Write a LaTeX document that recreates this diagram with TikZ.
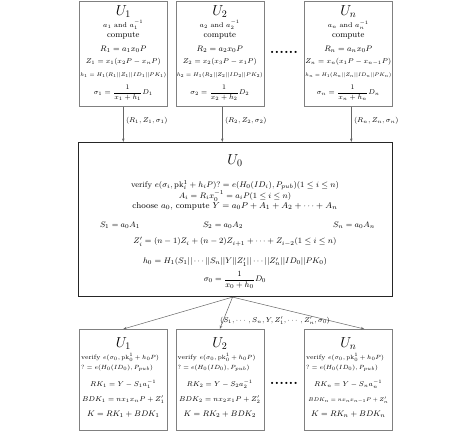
\documentclass[tikz,border=0pt]{standalone}
\usepackage{amsmath,amssymb,graphicx}
\usetikzlibrary{arrows.meta,calc}
\newcommand{\fitw}[2]{\resizebox{#1pt}{!}{#2}}
\begin{document}
\begin{tikzpicture}[x=1pt,y=-1pt,
  ubox/.style={draw=black!50,line width=0.6pt,inner sep=0pt,minimum width=88pt},
  mainbox/.style={draw=black!85,line width=1.1pt,inner sep=0pt,minimum width=314pt,minimum height=154pt},
  ttl/.style={inner sep=0pt,font=\fontsize{14}{16}\selectfont},
  sm/.style={inner sep=0pt,font=\fontsize{7}{8.5}\selectfont},
  xs/.style={inner sep=0pt,font=\fontsize{6.2}{7.5}\selectfont},
  vs/.style={inner sep=0pt,font=\fontsize{6.4}{7.5}\selectfont,anchor=west},
  mn/.style={inner sep=0pt,font=\fontsize{8}{9.5}\selectfont},
  md/.style={inner sep=0pt,font=\fontsize{8.5}{10}\selectfont},
  lbl/.style={inner sep=0pt,font=\fontsize{7}{8.5}\selectfont},
  arr/.style={draw=black!60,line width=0.5pt,-{Stealth[length=3.5pt,width=2.5pt]}},
  dotsn/.style={inner sep=0pt,font=\bfseries\fontsize{15}{16}\selectfont}
]
\useasboundingbox (0,0) rectangle (474,438);
% top boxes
\node[ubox,minimum height=105pt,anchor=north west] (T1) at (79,1) {};
\node[ubox,minimum height=105pt,anchor=north west] (T2) at (175.5,1) {};
\node[ubox,minimum height=105pt,anchor=north west] (T3) at (304,1) {};
\node[dotsn] (d1) at (284,52) {......};
% top box contents
\foreach \b/\i/\z in {T1/1/{x_1(x_2P-x_nP)},T2/2/{x_2(x_3P-x_1P)},T3/n/{x_n(x_1P-x_{n-1}P)}}{
  \node[ttl] at ($(\b.north)+(0,11)$) {$U_{\i}$};
  \node[sm] at ($(\b.north)+(0,24)$) {$a_{\i}$ and $a_{\i}^{-1}$};
  \node[md] at ($(\b.north)+(0,35)$) {compute};
  \node[md] at ($(\b.north)+(0,48)$) {$R_{\i}=a_{\i}x_0P$};
  \node[sm] at ($(\b.north)+(0,61)$) {$Z_{\i}=\z$};
  \node[xs] at ($(\b.north)+(0,74)$) {\fitw{86}{$h_{\i}=H_1(R_{\i}||Z_{\i}||ID_{\i}||PK_{\i})$}};
  \node[sm] at ($(\b.north)+(0,92)$) {$\sigma_{\i}=\dfrac{1}{x_{\i}+h_{\i}}D_{\i}$};
}
% main box
\node[mainbox,anchor=north west] (U0) at (78,142) {};
\node[ttl] (t0) at (235,161) {$U_0$};
\node[mn] (m1) at (235,185) {\fitw{208}{verify $e(\sigma_i,\mathrm{pk}_i^1+h_iP)?=e(H_0(ID_i),P_{pub})(1\le i\le n)$}};
\node[mn] (m2) at (235,196) {$A_i=R_ix_0^{-1}=a_iP(1\le i\le n)$};
\node[mn] (m3) at (235,206) {\fitw{205}{choose $a_0$, compute $Y=a_0P+A_1+A_2+\cdots+A_n$}};
\node[mn] (s1) at (120,225) {$S_1=a_0A_1$};
\node[mn] (s2) at (223,225) {$S_2=a_0A_2$};
\node[mn] (s3) at (354,225) {$S_n=a_0A_n$};
\node[mn] (m4) at (235,242) {\fitw{203}{$Z_i'=(n-1)Z_i+(n-2)Z_{i+1}+\cdots+Z_{i-2}(1\le i\le n)$}};
\node[mn] (m5) at (235,262) {\fitw{184}{$h_0=H_1(S_1||\cdots||S_n||Y||Z_1'||\cdots||Z_n'||ID_0||PK_0)$}};
\node[mn] (m6) at (235,280) {$\sigma_0=\dfrac{1}{x_0+h_0}D_0$};
% arrows top -> U0
\draw[arr] (T1.south) -- (T1.south |- U0.north) node[lbl,pos=0.4,right=2.5pt] {$(R_1,Z_1,\sigma_1)$};
\draw[arr] ($(T2.south)+(2.5,0)$) -- ($(T2.south |- U0.north)+(2.5,0)$) node[lbl,pos=0.4,right=2.5pt] {$(R_2,Z_2,\sigma_2)$};
\draw[arr] ($(T3.south)+(3,0)$) -- ($(T3.south |- U0.north)+(3,0)$) node[lbl,pos=0.4,right=2.5pt] {$(R_n,Z_n,\sigma_n)$};
% bottom boxes
\node[ubox,minimum height=101pt,anchor=north west] (B1) at (79,329) {};
\node[ubox,minimum height=101pt,anchor=north west] (B2) at (175.5,329) {};
\node[ubox,minimum height=101pt,anchor=north west] (B3) at (304,329) {};
\node[dotsn] (d2) at (284,383) {......};
\foreach \b/\i in {B1/1,B2/2,B3/n}{
  \node[ttl] at ($(\b.north)+(0,14.5)$) {$U_{\i}$};
  \node[vs] at ($(\b.north west)+(2,28.5)$) {verify $e(\sigma_0,\mathrm{pk}_0^1+h_0P)$};
  \node[vs] at ($(\b.north west)+(2,39)$) {$?=e(H_0(ID_0),P_{pub})$};
  \node[sm] at ($(\b.north)+(0,55.5)$) {$RK_{\i}=Y-S_{\i}a_{\i}^{-1}$};
  \node[md] at ($(\b.north)+(0,85)$) {$K=RK_{\i}+BDK_{\i}$};
}
\node[sm] (k1) at ($(B1.north)+(0,71)$) {$BDK_1=nx_1x_nP+Z_1'$};
\node[sm] (k2) at ($(B2.north)+(0,71)$) {$BDK_2=nx_2x_1P+Z_2'$};
\node[xs] (k3) at ($(B3.north)+(0,71)$) {\fitw{80}{$BDK_n=nx_nx_{n-1}P+Z_n'$}};
% arrows U0 -> bottom
\coordinate (o) at ($(U0.south)+(-3,0)$);
\draw[arr] (o) -- (B1.north);
\draw[arr] (o) -- (B2.north);
\draw[arr] (o) -- ($(B3.north)+(16,0)$);
\node[lbl,anchor=west] (lab) at (220,321) {$(S_1,\cdots,S_n,Y,Z_1',\cdots,Z_n',\sigma_0)$};
\end{tikzpicture}
\end{document}
